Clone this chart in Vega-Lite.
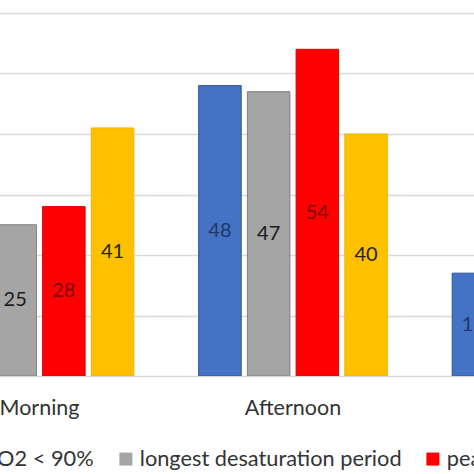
{
  "$schema": "https://vega.github.io/schema/vega-lite/v6.json",
  "width": 474,
  "height": 363,
  "autosize": {"type": "none"},
  "padding": {"left": 0, "top": 13, "right": 0, "bottom": 98},
  "background": "white",
  "config": {"view": {"stroke": null}, "font": "Lato"},
  "data": {
    "values": [
      {"period": "Morning", "series": "longest desaturation period", "value": 25},
      {"period": "Morning", "series": "peak desaturation", "value": 28},
      {"period": "Morning", "series": "lowest SpO2", "value": 41},
      {"period": "Afternoon", "series": "time with SpO2 < 90%", "value": 48},
      {"period": "Afternoon", "series": "longest desaturation period", "value": 47},
      {"period": "Afternoon", "series": "peak desaturation", "value": 54},
      {"period": "Afternoon", "series": "lowest SpO2", "value": 40},
      {"period": "Evening", "series": "time with SpO2 < 90%", "value": 17}
    ]
  },
  "encoding": {
    "x": {
      "field": "period",
      "type": "nominal",
      "sort": ["Morning", "Afternoon", "Evening"],
      "scale": {"domain": ["Morning", "Afternoon", "Evening"], "range": [-87.25, 673.25], "paddingInner": 0, "paddingOuter": 0},
      "axis": {
        "title": null,
        "ticks": false,
        "domainColor": "#d9d9d9",
        "domainWidth": 1.5,
        "labelFont": "Lato",
        "labelFontSize": 21.5,
        "labelColor": "#333333",
        "labelPadding": 38,
        "labelBaseline": "alphabetic",
        "labelOverlap": false,
        "labelBound": false,
        "labelFlush": false,
        "labelAngle": 0
      }
    },
    "xOffset": {
      "field": "series",
      "type": "nominal",
      "scale": {"domain": ["time with SpO2 < 90%", "longest desaturation period", "peak desaturation", "lowest SpO2"], "paddingInner": 0.127, "paddingOuter": 0.666}
    }
  },
  "layer": [
    {
      "mark": {"type": "bar", "clip": true, "strokeWidth": 1},
      "encoding": {
        "y": {
          "field": "value",
          "type": "quantitative",
          "scale": {"domain": [0, 60]},
          "axis": {"title": null, "labels": false, "ticks": false, "domain": false, "grid": true, "gridColor": "#d9d9d9", "gridWidth": 1.5, "values": [10, 20, 30, 40, 50, 60]}
        },
        "color": {
          "field": "series",
          "type": "nominal",
          "scale": {"domain": ["time with SpO2 < 90%", "longest desaturation period", "peak desaturation", "lowest SpO2"], "range": ["#4472C4", "#A5A5A5", "#FF0000", "#FFC000"]},
          "legend": {
            "orient": "none",
            "direction": "horizontal",
            "legendX": -147,
            "legendY": 435,
            "title": null,
            "symbolType": "square",
            "symbolSize": 169,
            "symbolStrokeWidth": 0,
            "labelFont": "Lato",
            "labelFontSize": 21.75,
            "labelColor": "#333333",
            "labelOffset": 3,
            "labelLimit": 0,
            "columnPadding": 20,
            "padding": 0
          }
        },
        "stroke": {
          "field": "series",
          "type": "nominal",
          "scale": {"domain": ["time with SpO2 < 90%", "longest desaturation period", "peak desaturation", "lowest SpO2"], "range": ["#2F5597", "#7F7F7F", "#E00000", "#F0B400"]},
          "legend": null
        }
      }
    },
    {
      "mark": {"type": "text", "clip": true, "fontSize": 20, "font": "Lato", "y": {"expr": "scale('y', datum.value / 2)"}},
      "encoding": {
        "text": {"field": "value", "type": "quantitative"},
        "fill": {
          "field": "series",
          "type": "nominal",
          "scale": {"domain": ["time with SpO2 < 90%", "longest desaturation period", "peak desaturation", "lowest SpO2"], "range": ["#1F3864", "#1A1A1A", "#7A0000", "#262626"]},
          "legend": null
        }
      }
    }
  ]
}
